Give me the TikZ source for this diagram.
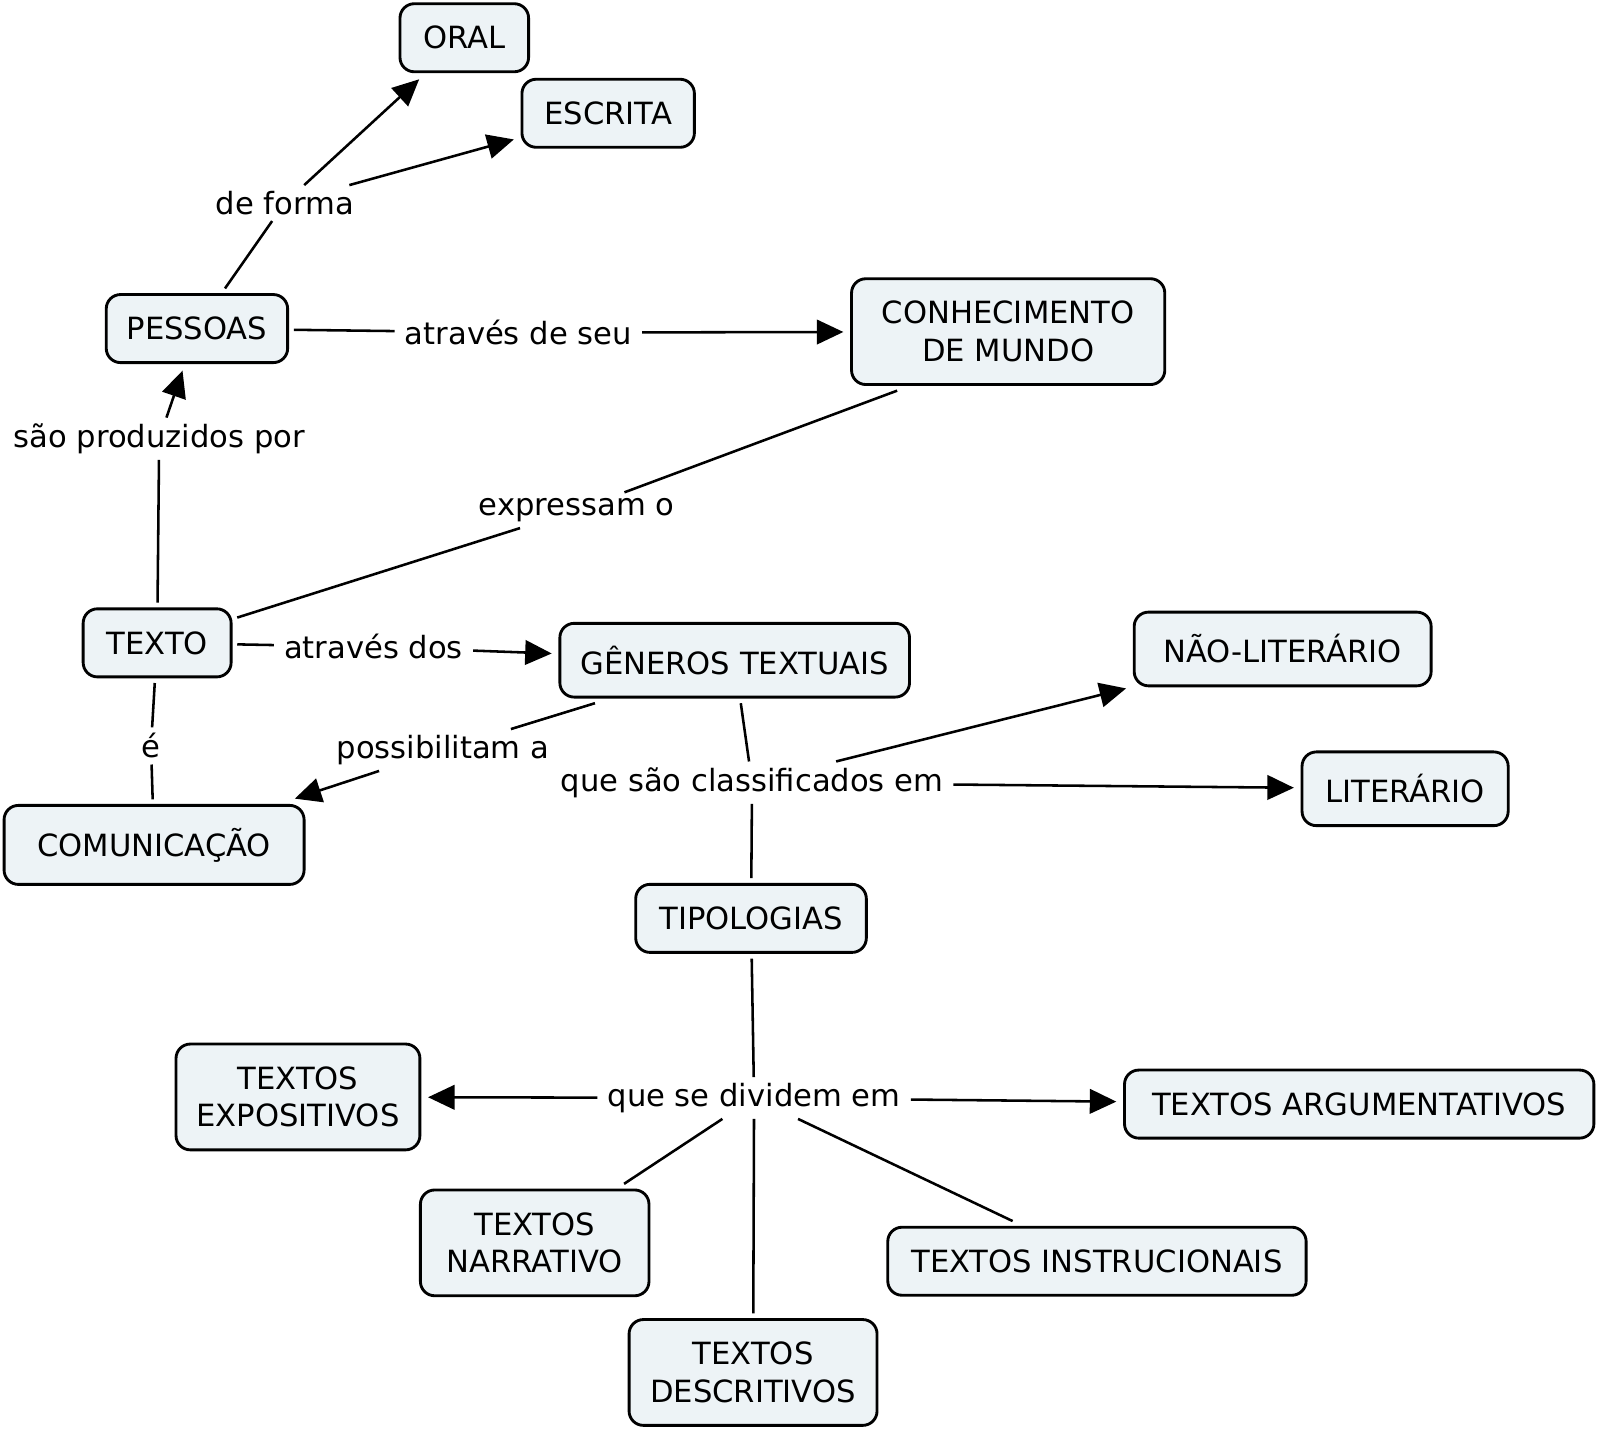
\documentclass[tikz,border=0pt]{standalone}
\usepackage{fontspec}
\setmainfont{DejaVu Sans}
\usetikzlibrary{arrows.meta}
\definecolor{boxfill}{RGB}{237,243,246}
\begin{document}
\begin{tikzpicture}[x=0.5pt,y=-0.5pt,
  font=\fontsize{15}{18.5}\selectfont,
  concept/.style={draw=black, line width=1.4pt, fill=boxfill, rounded corners=7pt,
    inner xsep=10pt, inner ysep=11pt, outer sep=3pt, align=center},
  lbl/.style={inner xsep=5pt, inner ysep=3pt, outer sep=0pt},
  conn/.style={line width=1.25pt},
  conarr/.style={conn, -{Triangle[length=13pt,width=12pt]}, shorten >=1pt},
]
\useasboundingbox (0,0) rectangle (1568,1402);

% concepts
\node[concept, minimum width=63pt]    (oral)    at (455,37)   {ORAL};
\node[concept, minimum width=84.5pt]  (escrita) at (596,111)  {ESCRITA};
\node[concept, minimum width=88pt]    (pessoas) at (193,322)  {PESSOAS};
\node[concept, minimum width=153.5pt] (conhec)  at (988,325)  {CONHECIMENTO\\DE MUNDO};
\node[concept, minimum width=72.5pt]  (texto)   at (154,630)  {TEXTO};
\node[concept, minimum width=171pt]   (generos) at (720,647)  {GÊNEROS TEXTUAIS};
\node[concept, minimum width=145.5pt] (naolit)  at (1257,636) {NÃO-LITERÁRIO};
\node[concept, minimum width=101pt]   (lit)     at (1377,773) {LITERÁRIO};
\node[concept, minimum width=147pt]   (comun)   at (151,828)  {COMUNICAÇÃO};
\node[concept, minimum width=113pt]   (tipol)   at (736,900)  {TIPOLOGIAS};
\node[concept, minimum width=119.5pt] (expos)   at (292,1075) {TEXTOS\\EXPOSITIVOS};
\node[concept, minimum width=230pt]   (argum)   at (1332,1082){TEXTOS ARGUMENTATIVOS};
\node[concept, minimum width=112pt]   (narr)    at (524,1218) {TEXTOS\\NARRATIVO};
\node[concept, minimum width=205pt]   (instr)   at (1075,1236){TEXTOS INSTRUCIONAIS};
\node[concept, minimum width=121.5pt] (descr)   at (738,1345) {TEXTOS\\DESCRITIVOS};

% linking phrases
\node[lbl] (deforma)    at (279,199)  {de forma};
\node[lbl] (atraves1)   at (508,326)  {através de seu};
\node[lbl] (produzidos) at (156,430)  {são produzidos por};
\node[lbl] (expressam)  at (565,500)  {expressam o};
\node[lbl] (atraves2)   at (366,634)  {através dos};
\node[lbl] (e)          at (148,731)  {é};
\node[lbl] (possib)     at (434,735)  {possibilitam a};
\node[lbl] (classif)    at (737,767)  {que são classificados em};
\node[lbl] (dividem)    at (739,1076) {que se dividem em};

% connectors
\draw[conn]   (pessoas) -- (deforma);
\draw[conarr] (deforma) -- (oral);
\draw[conarr] (deforma) -- (escrita);
\draw[conn]   (pessoas) -- (atraves1);
\draw[conarr] (atraves1) -- (conhec);
\draw[conn]   (texto) -- (produzidos);
\draw[conarr] (produzidos) -- (pessoas);
\draw[conn]   (texto) -- (expressam);
\draw[conn]   (expressam) -- (conhec.208);
\draw[conn]   (texto) -- (atraves2);
\draw[conarr] (atraves2) -- (generos);
\draw[conn]   (texto) -- (e);
\draw[conn]   (e) -- (comun);
\draw[conn]   (generos) -- (possib);
\draw[conarr] (possib) -- (comun);
\draw[conn]   (generos) -- (classif);
\draw[conarr] (classif) -- (naolit);
\draw[conarr] (classif) -- (lit);
\draw[conn]   (classif) -- (tipol);
\draw[conn]   (tipol) -- (dividem);
\draw[conarr] (dividem) -- (expos);
\draw[conarr] (dividem) -- (argum);
\draw[conn]   (dividem) -- (narr);
\draw[conn]   (dividem) -- (descr);
\draw[conn]   (dividem) -- (instr);
\end{tikzpicture}
\end{document}
